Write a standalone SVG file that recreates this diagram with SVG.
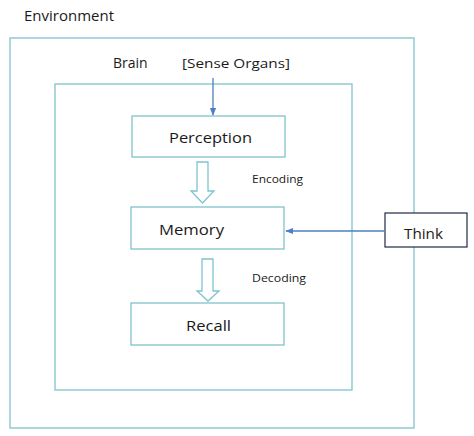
<svg xmlns="http://www.w3.org/2000/svg" width="474" height="436" viewBox="0 0 474 436">
<style>
.box{fill:none;stroke:#7fc3cc;stroke-width:1.3}
.node{fill:#fff;stroke:#7fc3cc;stroke-width:1.3}
.think{fill:#fff;stroke:#1f2a44;stroke-width:1.2}
.t{font-family:"Open Sans","Liberation Sans",sans-serif;fill:#1a1a1a}
.con{stroke:#4f7fc0;stroke-width:1.3;fill:none}
.block{fill:#fff;stroke:#7fc3cc;stroke-width:1.3}
</style>
<defs>
<marker id="ah" viewBox="0 0 10 10" refX="9" refY="5" markerWidth="6" markerHeight="6" orient="auto">
<path d="M0,1 L10,5 L0,9 Z" fill="#4f7fc0"/>
</marker>
</defs>
<rect width="474" height="436" fill="#fff"/>
<g id="environment">
<rect class="box" x="10" y="38" width="404" height="390"/>
<text class="t" x="24" y="21" font-size="15">Environment</text>
</g>
<g id="brain">
<rect class="box" x="55" y="84" width="297" height="306"/>
<text class="t" x="113" y="68" font-size="14">Brain</text>
</g>
<g id="sense-organs">
<text class="t" x="182" y="68" font-size="13" textLength="108" lengthAdjust="spacingAndGlyphs">[Sense Organs]</text>
</g>
<g id="perception">
<rect class="node" x="132" y="116" width="153" height="41"/>
<text class="t" x="169" y="143" font-size="14" textLength="83" lengthAdjust="spacingAndGlyphs">Perception</text>
</g>
<g id="memory">
<rect class="node" x="131" y="207" width="153" height="42"/>
<text class="t" x="159" y="235" font-size="14" textLength="65" lengthAdjust="spacingAndGlyphs">Memory</text>
</g>
<g id="recall">
<rect class="node" x="131" y="303" width="153" height="42"/>
<text class="t" x="186" y="331" font-size="14" textLength="45" lengthAdjust="spacingAndGlyphs">Recall</text>
</g>
<g id="think">
<rect class="think" x="385" y="213" width="82" height="34"/>
<text class="t" x="404" y="239" font-size="14" textLength="39" lengthAdjust="spacingAndGlyphs">Think</text>
</g>
<g id="connectors">
<line class="con" x1="213" y1="78" x2="213" y2="115" marker-end="url(#ah)"/>
<line class="con" x1="385" y1="231" x2="286" y2="231" marker-end="url(#ah)"/>
<path class="block" d="M197,162 H208 V191 H214 L202.5,203 L191,191 H197 Z"/>
<path class="block" d="M202,259 H213 V291 H219 L208,301 L197,291 H202 Z"/>
<text class="t" x="252" y="183" font-size="10" textLength="51" lengthAdjust="spacingAndGlyphs">Encoding</text>
<text class="t" x="252" y="282" font-size="10" textLength="54" lengthAdjust="spacingAndGlyphs">Decoding</text>
</g>
</svg>
